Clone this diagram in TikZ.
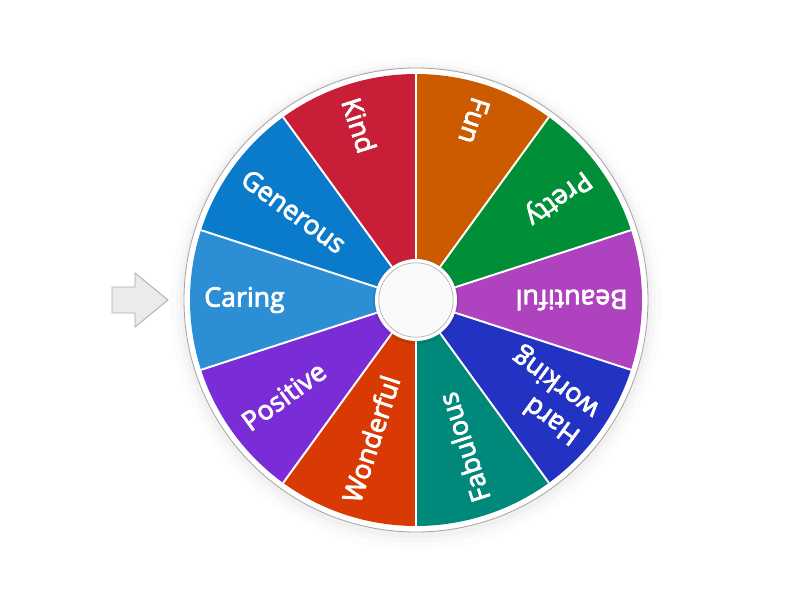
\documentclass[tikz,border=0pt]{standalone}
\usepackage{fontspec}
\setmainfont{Open Sans}
\newfontfamily\wheelfont{Open Sans}[FakeBold = 3]
\usepackage{tikz}
\usetikzlibrary{positioning}

\definecolor{caringblue}{HTML}{2C8FD5}
\definecolor{generousblue}{HTML}{0A7BCB}
\definecolor{kindred}{HTML}{C81E37}
\definecolor{funorange}{HTML}{CC5B00}
\definecolor{prettygreen}{HTML}{008F37}
\definecolor{beautifulpurple}{HTML}{AF42BE}
\definecolor{hardblue}{HTML}{2232C2}
\definecolor{fabteal}{HTML}{00897A}
\definecolor{wonderorange}{HTML}{D93A03}
\definecolor{positivepurple}{HTML}{7A2DD7}
\definecolor{pointergray}{HTML}{EBEBEB}
\definecolor{pointeredge}{HTML}{ABABAB}

\tikzset{
	seglabel/.style = {white, inner sep = 0pt, anchor = west, align = left, font = \wheelfont\fontsize{19}{23}\selectfont},
	divider/.style = {white, line width = 1.4pt},
}

\begin{document}
\begin{tikzpicture}[scale = 1]

	\useasboundingbox[fill = white] (-10.4, -7.5) rectangle (9.6, 7.5);
	
	% soft shadow round the wheel
	\fill[black, opacity = 0.012] (0, -0.1) circle (6.15);
	\fill[black, opacity = 0.018] (0, -0.08) circle (6.0);
	\fill[black, opacity = 0.025] (0, -0.05) circle (5.9);
	
	\draw[fill = white, draw = gray!70, line width = 0.6pt] (0, 0) circle (5.8);
	
	\fill[caringblue] (0, 0) -- (162:5.65) arc[start angle = 162, end angle = 198, radius = 5.65] -- cycle;
	\fill[generousblue] (0, 0) -- (126:5.65) arc[start angle = 126, end angle = 162, radius = 5.65] -- cycle;
	\fill[kindred] (0, 0) -- (90:5.65) arc[start angle = 90, end angle = 126, radius = 5.65] -- cycle;
	\fill[funorange] (0, 0) -- (54:5.65) arc[start angle = 54, end angle = 90, radius = 5.65] -- cycle;
	\fill[prettygreen] (0, 0) -- (18:5.65) arc[start angle = 18, end angle = 54, radius = 5.65] -- cycle;
	\fill[beautifulpurple] (0, 0) -- (-18:5.65) arc[start angle = -18, end angle = 18, radius = 5.65] -- cycle;
	\fill[hardblue] (0, 0) -- (-54:5.65) arc[start angle = -54, end angle = -18, radius = 5.65] -- cycle;
	\fill[fabteal] (0, 0) -- (-90:5.65) arc[start angle = -90, end angle = -54, radius = 5.65] -- cycle;
	\fill[wonderorange] (0, 0) -- (-126:5.65) arc[start angle = -126, end angle = -90, radius = 5.65] -- cycle;
	\fill[positivepurple] (0, 0) -- (-162:5.65) arc[start angle = -162, end angle = -126, radius = 5.65] -- cycle;
	
	\draw[divider] (0, 0) -- (18:5.65);
	\draw[divider] (0, 0) -- (54:5.65);
	\draw[divider] (0, 0) -- (90:5.65);
	\draw[divider] (0, 0) -- (126:5.65);
	\draw[divider] (0, 0) -- (162:5.65);
	\draw[divider] (0, 0) -- (198:5.65);
	\draw[divider] (0, 0) -- (234:5.65);
	\draw[divider] (0, 0) -- (270:5.65);
	\draw[divider] (0, 0) -- (306:5.65);
	\draw[divider] (0, 0) -- (342:5.65);
	
	\node[seglabel, rotate = 0] (caring) at (180:5.3) {Caring};
	\node[seglabel, rotate = -36] (generous) at (144:5.3) {Generous};
	\node[seglabel, rotate = -72] (kind) at (108:5.3) {Kind};
	\node[seglabel, rotate = -108] (fun) at (72:5.3) {Fun};
	\node[seglabel, rotate = -144] (pretty) at (36:5.3) {Pretty};
	\node[seglabel, rotate = 180] (beautiful) at (0:5.3) {Beautiful};
	\node[seglabel, rotate = 144] (hardworking) at (-36:5.3) {Hard\\working};
	\node[seglabel, rotate = 108] (fabulous) at (-72:5.3) {Fabulous};
	\node[seglabel, rotate = 72] (wonderful) at (-108:5.3) {Wonderful};
	\node[seglabel, rotate = 36] (positive) at (-144:5.3) {Positive};
	
	% hub
	\fill[black, opacity = 0.08] (0, -0.03) circle (1.07);
	\fill[white] (0, 0) circle (1.025);
	\draw[fill = gray!4, draw = gray!60, line width = 0.5pt] (0, 0) circle (0.93);
	
	% pointer
	\draw[fill = pointergray, draw = pointeredge, line width = 0.6pt] (-7.6, 0.325) -- (-7.025, 0.325) -- (-7.025, 0.675) -- (-6.2, 0) -- (-7.025, -0.675) -- (-7.025, -0.325) -- (-7.6, -0.325) -- cycle;
	
\end{tikzpicture}
\end{document}
